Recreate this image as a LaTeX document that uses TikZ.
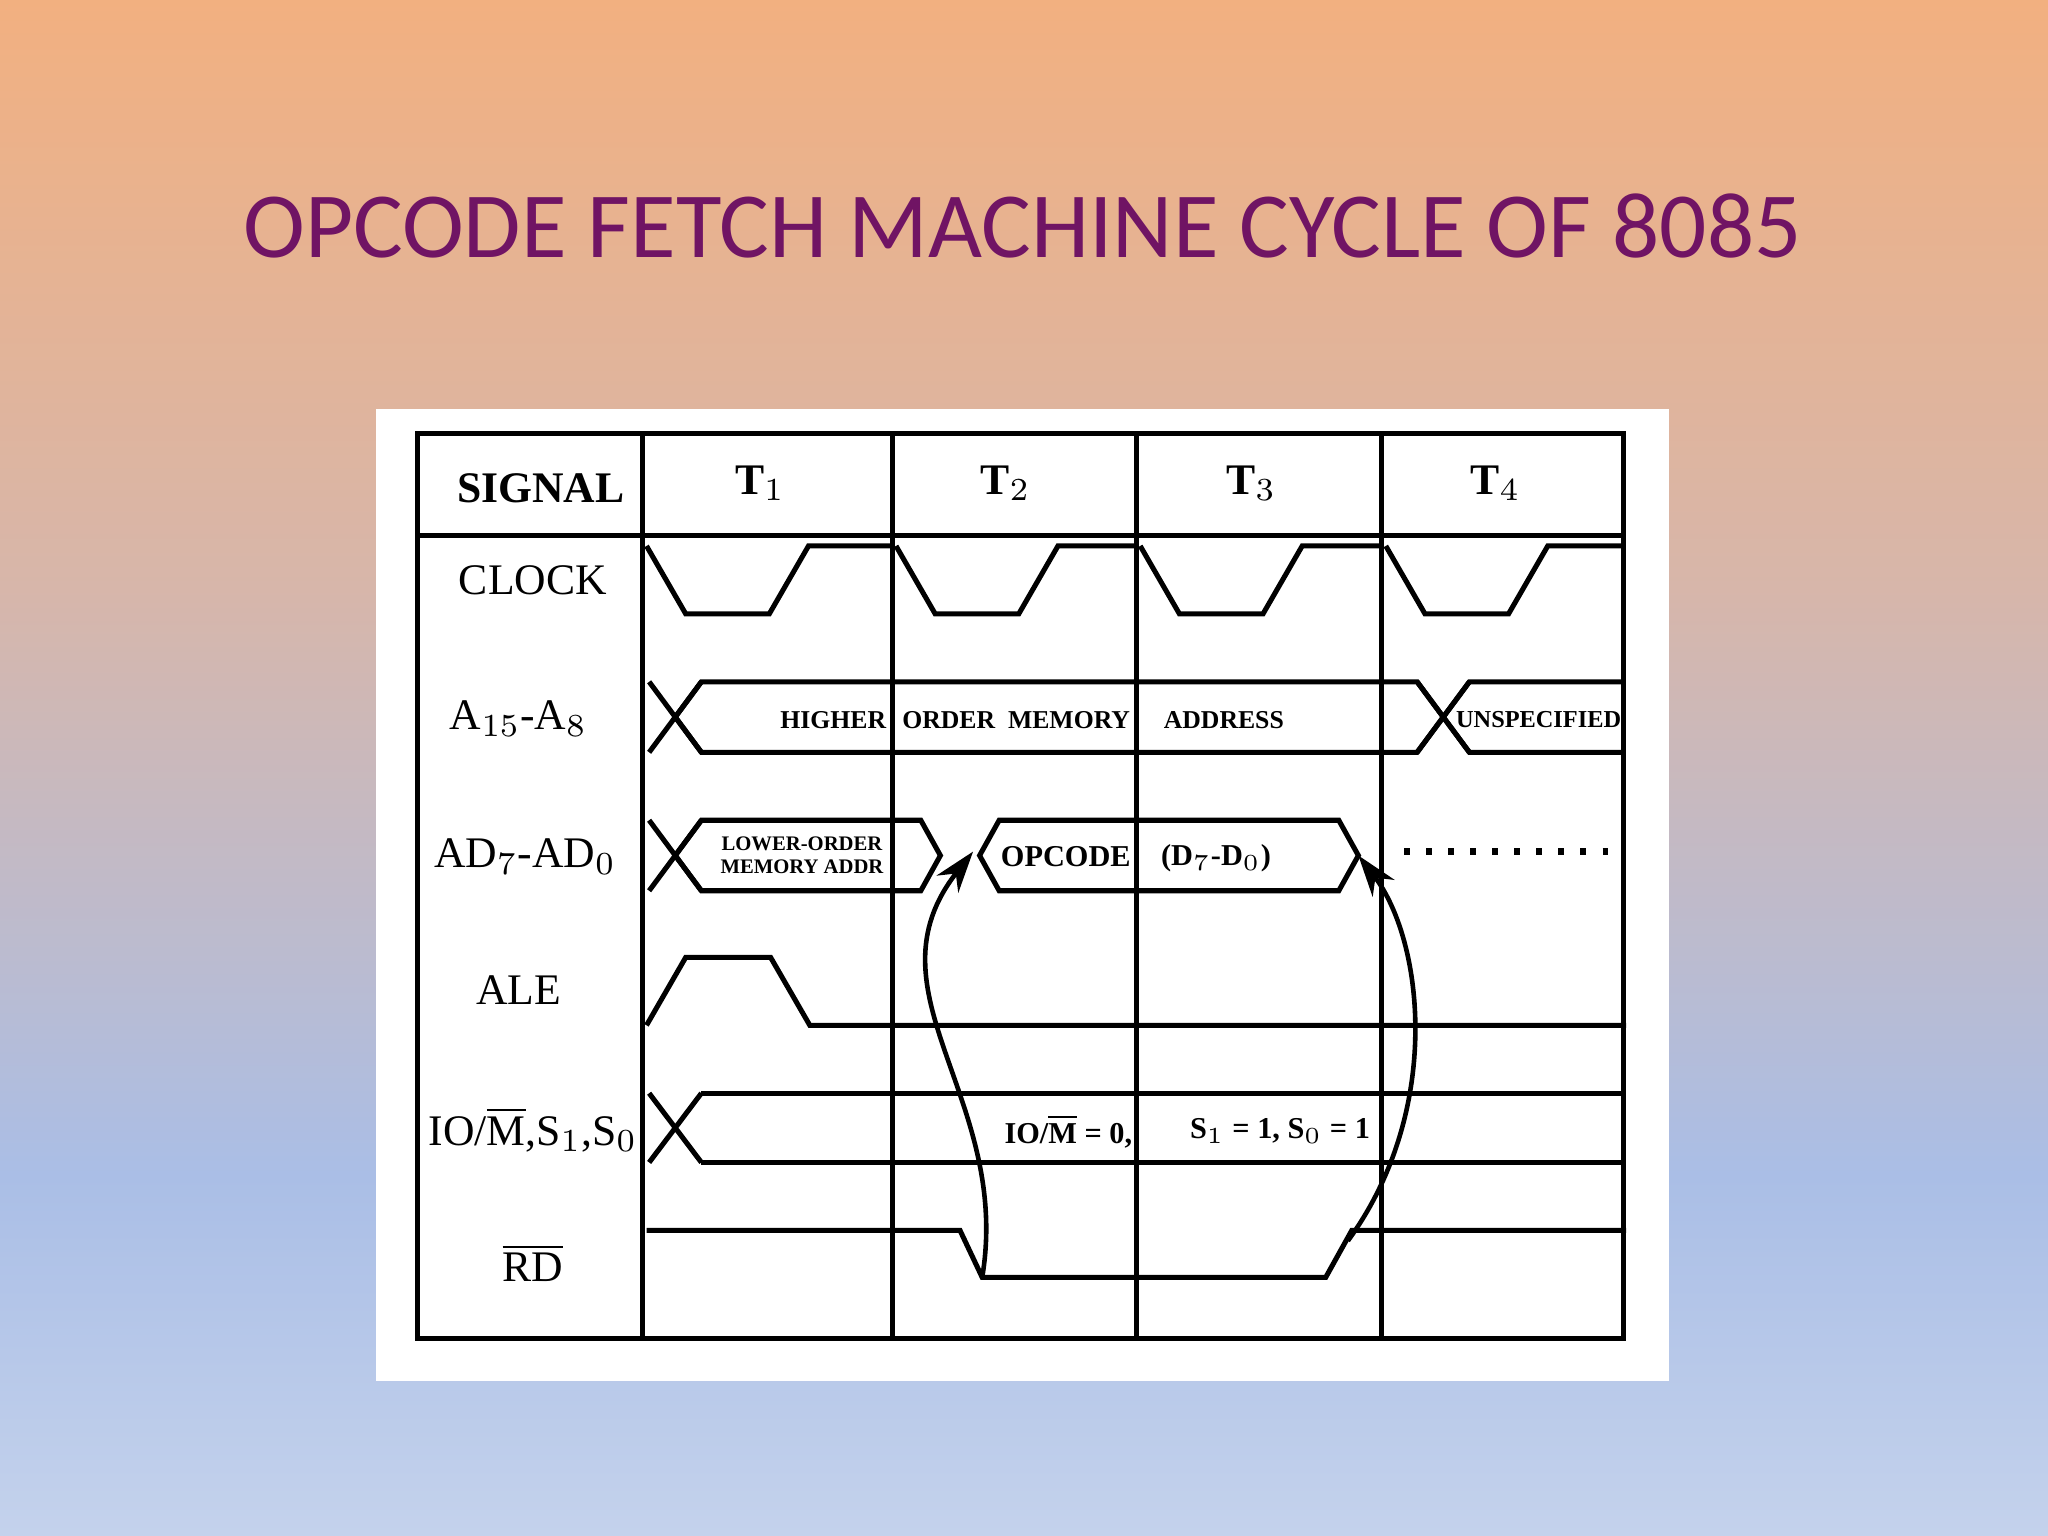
\documentclass[tikz,border=0pt]{standalone}
\usepackage{fontspec}
\setmainfont{Liberation Serif}
\newfontfamily\titlefont{Carlito}
\usetikzlibrary{arrows.meta}
\definecolor{bgtop}{RGB}{242,176,128}
\definecolor{bgmid}{RGB}{170,190,230}
\definecolor{bgbot}{RGB}{196,210,236}
\definecolor{ttl}{RGB}{112,20,100}
\begin{document}
\begin{tikzpicture}[x=0.01cm,y=-0.01cm,
  sig/.style={line width=1.1pt,black},
  lbl/.style={font=\fontsize{9.5}{9.5}\selectfont, inner sep=0pt},
  hd/.style={font=\fontsize{9.5}{9.5}\selectfont\bfseries, inner sep=0pt},
  sm/.style={font=\fontsize{5.6}{6}\selectfont\bfseries, inner sep=0pt},
  md/.style={font=\fontsize{6.6}{7}\selectfont\bfseries, inner sep=0pt},
  tiny/.style={font=\fontsize{4.5}{5}\selectfont\bfseries, inner sep=0pt, align=center}]
\useasboundingbox (0,0) rectangle (1568,1176);
\shade[top color=bgtop, bottom color=bgmid, middle color={rgb,255:red,215;green,182;blue,170}] (0,0) rectangle (1568,900);
\shade[top color=bgmid, bottom color=bgbot] (0,900) rectangle (1568,1176);
\node[text=ttl, font=\titlefont\fontsize{20.3}{21}\selectfont] (title) at (783,173) {OPCODE FETCH MACHINE CYCLE OF 8085};
\fill[white] (288,313) rectangle (1278,1057);
% table
\draw[sig] (320,332) rectangle (1243,1025);
\draw[sig] (320,410) -- (1243,410);
\foreach \x in {492,683,870,1058} \draw[sig] (\x,332) -- (\x,1025);
\node[hd] (hs) at (414,374) {SIGNAL};
\node[hd] (h1) at (582,370) {T$_1$};
\node[hd] (h2) at (770,370) {T$_2$};
\node[hd] (h3) at (958,370) {T$_3$};
\node[hd] (h4) at (1145,370) {T$_4$};
\node[lbl] (lc) at (408,444) {CLOCK};
\node[lbl] (la) at (397,550) {A$_{15}$-A$_8$};
\node[lbl] (lad) at (402,656) {AD$_7$-AD$_0$};
\node[lbl] (lale) at (397,758) {ALE};
\node[lbl] (lio) at (408,865) {IO/$\overline{\mbox{M}}$,S$_1$,S$_0$};
\node[lbl] (lrd) at (408,967) {$\overline{\mbox{RD}}$};
% clock
\foreach \x/\e in {492/683,683/870,870/1058,1058/1243}
  \draw[sig] (\x+3,418) -- (\x+33,470) -- (\x+97,470) -- (\x+127,418) -- (\e,418);
% A15-A8
\draw[sig] (497,522) -- (537,576); \draw[sig] (497,576) -- (537,522);
\draw[sig] (537,522) -- (1085,522) -- (1105,549) -- (1085,576) -- (537,576) -- (517,549) -- cycle;
\draw[sig] (1105,549) -- (1125,522) -- (1243,522);
\draw[sig] (1105,549) -- (1125,576) -- (1243,576);
\draw[sig] (1085,522) -- (1125,576);
\draw[sig] (1085,576) -- (1125,522);
\node[sm] (ta1) at (638,551) {HIGHER};
\node[sm] (ta2) at (778,551) {ORDER\ \ MEMORY};
\node[sm] (ta3) at (937,551) {ADDRESS};
\node[sm,font=\fontsize{5.3}{6}\selectfont\bfseries] (ta4) at (1178,551) {UNSPECIFIED};
% AD7-AD0
\draw[sig] (497,628) -- (537,682); \draw[sig] (497,682) -- (537,628);
\draw[sig] (517,655) -- (537,628) -- (705,628) -- (720,655) -- (705,682) -- (537,682) -- cycle;
\draw[sig] (750,655) -- (765,628) -- (1025,628) -- (1040,655) -- (1025,682) -- (765,682) -- cycle;
\draw[line width=1.4pt, dash pattern=on 1.2pt off 3.6pt] (1075,652) -- (1232,652);
\node[tiny] (tl) at (614,655) {LOWER-ORDER\\MEMORY ADDR};
\node[md] (top) at (816,656) {OPCODE};
\node[md] (td) at (931,657) {(D$_7$-D$_0$)};
\coordinate (ar1) at (745,652);
\coordinate (ar2) at (1040,655);
% ALE
\draw[sig] (495,785) -- (525,733) -- (590,733) -- (620,785) -- (1245,785);
% IO/M
\draw[sig] (497,837) -- (537,890); \draw[sig] (497,890) -- (537,837);
\draw[sig] (537,837) -- (1245,837); \draw[sig] (537,890) -- (1245,890);
\node[md] (tio) at (818,866) {IO/$\overline{\mbox{M}}$ = 0,};
\node[md] (ts) at (980,866) {S$_1$ = 1, S$_0$ = 1};
% RD
\draw[sig] (495,942) -- (735,942) -- (752,978) -- (1015,978) -- (1035,942) -- (1245,942);
\coordinate (rd1) at (752,978);
\coordinate (rd2) at (1032,950);
\draw[line width=1pt,-{Stealth[length=9pt,width=6pt]}] (rd1) .. controls (775,840) and (660,760) .. (ar1);
\draw[line width=1pt,-{Stealth[length=9pt,width=6pt]}] (rd2) .. controls (1105,850) and (1090,720) .. (ar2);
\end{tikzpicture}
\end{document}
